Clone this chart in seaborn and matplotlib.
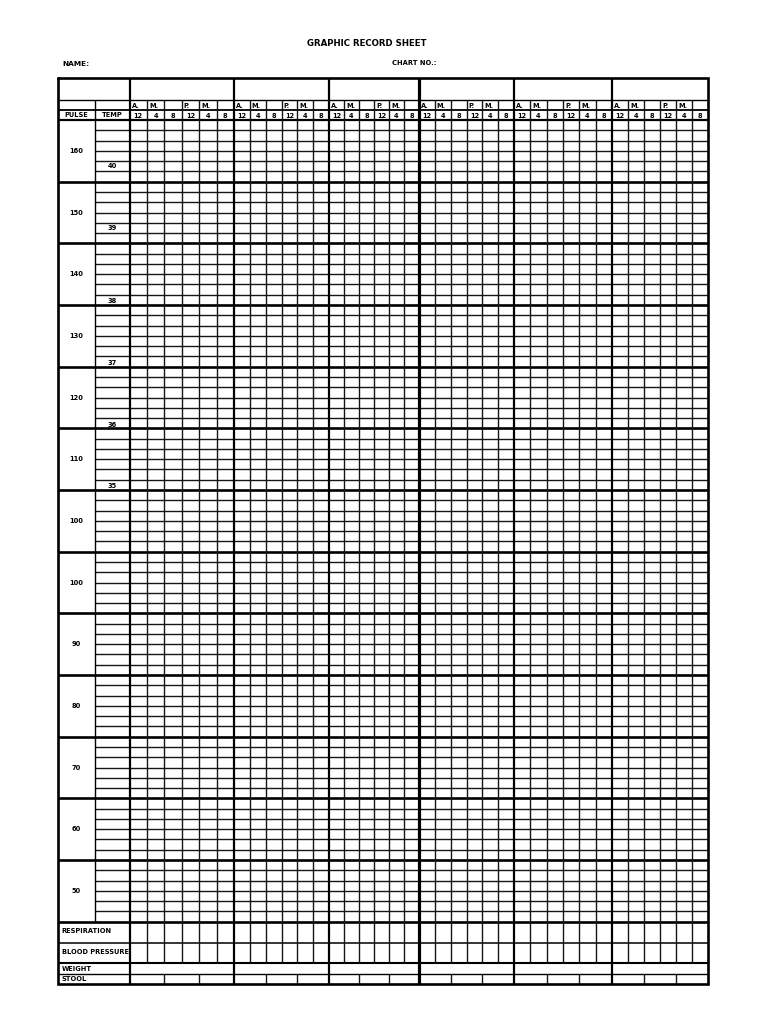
import numpy as np
import matplotlib
matplotlib.use('Agg')
import matplotlib.pyplot as plt
import seaborn as sns

# form contents
title = 'GRAPHIC RECORD SHEET'
pulse_values = [160, 150, 140, 130, 120, 110, 100, 100, 90, 80, 70, 60, 50]
temp_values = [40, 39, 38, 37, 36, 35]
temp_rows = [4, 4, 5, 5, 5, 5]          # sub-row in the block where the degree sits
ampm_labels = ['A.', 'M.', '', 'P.', 'M.', '']
hour_labels = ['12', '4', '8', '12', '4', '8']
footer_labels = ['RESPIRATION', 'BLOOD PRESSURE', 'WEIGHT', 'STOOL']
n_days = 6

# layout (figure pixels)
X_L, X_P, X_T, X_R = 57.5, 94.5, 129.5, 708
day_edges = [129.5, 234, 329, 419, 514, 612, 708]
Y_TOP, Y_H1, Y_H2, Y_H3 = 78, 100, 110, 120
Y_END = 921.7
foot_edges = [Y_END, 942.7, 963.3, 974, 984]
rows_per_block = 6
block_h = (Y_END - Y_H3) / len(pulse_values)
row_h = block_h / rows_per_block

sns.set_theme(style='white')
plt.rcParams['font.family'] = ['DejaVu Sans']

fig = plt.figure(figsize=(7.68, 10.24), dpi=100)
ax = fig.add_axes([0, 0, 1, 1])
ax.set_xlim(0, 768)
ax.set_ylim(1024, 0)
ax.set_axis_off()
sns.despine(ax=ax, left=True, bottom=True)

K = 'black'
mid, thick = 1.3, 1.9

# sub-column edges inside every day
sub_edges = []
for d in range(n_days):
    e = np.linspace(day_edges[d], day_edges[d + 1], 7)
    sub_edges.append(e)

# header rows
ax.hlines(Y_H1, X_L, X_R, color=K, lw=1.0)
ax.hlines(Y_H2, X_L, X_R, color=K, lw=mid)
ax.hlines(Y_H3, X_L, X_R, color=K, lw=1.6)

# pulse blocks
for b in range(len(pulse_values)):
    y0 = Y_H3 + b * block_h
    for r in range(1, rows_per_block):
        ax.hlines(y0 + r * row_h, X_P, X_R, color='#151515', lw=1.0)
    if b > 0:
        ax.hlines(y0, X_L, X_R, color=K, lw=thick)
ax.hlines(Y_END, X_L, X_R, color=K, lw=thick)

# footer rows
ax.hlines(foot_edges[1], X_L, X_R, color=K, lw=1.1)
ax.hlines(foot_edges[2], X_L, X_R, color=K, lw=1.5)
ax.hlines(foot_edges[3], X_L, X_R, color=K, lw=1.0)

# vertical lines
ax.vlines(X_P, Y_H1, Y_END, color=K, lw=1.0)
ax.vlines(X_T, Y_TOP, foot_edges[-1], color=K, lw=1.6)
for d in range(1, n_days):
    lw = 2.3 if d == 3 else 1.6
    ax.vlines(day_edges[d], Y_TOP, foot_edges[-1], color=K, lw=lw)
for d in range(n_days):
    e = sub_edges[d]
    for i in range(1, 6):
        ax.vlines(e[i], Y_H1, foot_edges[2], color='#151515', lw=1.0)
    for i in (2, 4):
        ax.vlines(e[i], foot_edges[3], foot_edges[4], color='#151515', lw=1.0)

# outer frame
ax.plot([X_L, X_R, X_R, X_L, X_L], [Y_TOP, Y_TOP, foot_edges[-1], foot_edges[-1], Y_TOP],
        color=K, lw=thick, solid_joinstyle='miter')

fs = 4.8
tkw = dict(fontweight='bold', color=K)

ax.text(367, 43, title, ha='center', va='center', fontsize=6.2, **tkw)
ax.text(62, 64, 'NAME:', ha='left', va='center', fontsize=5.3, **tkw)
ax.text(392, 63, 'CHART NO.:', ha='left', va='center', fontsize=4.9, **tkw)

ax.text((X_L + X_P) / 2, (Y_H2 + Y_H3) / 2, 'PULSE', ha='center', va='center', fontsize=fs, **tkw)
ax.text((X_P + X_T) / 2, (Y_H2 + Y_H3) / 2, 'TEMP', ha='center', va='center', fontsize=fs, **tkw)

for d in range(n_days):
    e = sub_edges[d]
    for i in range(6):
        if ampm_labels[i]:
            ax.text(e[i] + 2, (Y_H1 + Y_H2) / 2 + 0.5, ampm_labels[i], ha='left', va='center',
                    fontsize=fs, **tkw)
        ax.text((e[i] + e[i + 1]) / 2, (Y_H2 + Y_H3) / 2 + 0.5, hour_labels[i], ha='center',
                va='center', fontsize=fs, **tkw)

for b, p in enumerate(pulse_values):
    y0 = Y_H3 + b * block_h
    ax.text((X_L + X_P) / 2, y0 + block_h / 2, str(p), ha='center', va='center', fontsize=fs, **tkw)

for t, (v, r) in enumerate(zip(temp_values, temp_rows)):
    y0 = Y_H3 + t * block_h
    ax.text((X_P + X_T) / 2, y0 + (r + 0.5) * row_h + (1.5 if r == 5 else 0), str(v),
            ha='center', va='center', fontsize=fs, **tkw)

for i, lab in enumerate(footer_labels):
    top, bot = foot_edges[i], foot_edges[i + 1]
    yc = top + 9.5 if i < 2 else (top + bot) / 2
    ax.text(X_L + 4, yc, lab, ha='left', va='center', fontsize=fs, **tkw)

fig.savefig('out.png', dpi=100, facecolor='white')
